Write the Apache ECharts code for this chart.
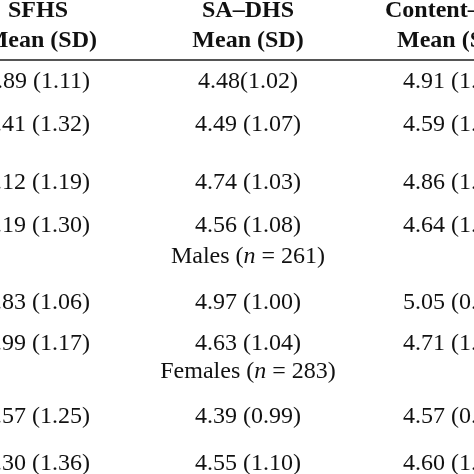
<!DOCTYPE html>
<html>
<head>
<meta charset="utf-8">
<script src="https://cdn.jsdelivr.net/npm/echarts@6/dist/echarts.min.js"></script>
<style>html,body{margin:0;padding:0;background:#fff}#main{width:474px;height:474px}</style>
</head>
<body>
<div id="main"></div>
<script>
// table values
var headers1 = ['SFHS', 'SA\u2013DHS', 'Content\u2013DHS'];
var headers2 = ['Mean (SD)', 'Mean (SD)', 'Mean (SD)'];
var colSFHS = ['4.89 (1.11)', '4.41 (1.32)', '4.12 (1.19)', '4.19 (1.30)', '4.83 (1.06)', '4.99 (1.17)', '4.57 (1.25)', '4.30 (1.36)'];
var colSADHS = ['4.48(1.02)', '4.49 (1.07)', '4.74 (1.03)', '4.56 (1.08)', '4.97 (1.00)', '4.63 (1.04)', '4.39 (0.99)', '4.55 (1.10)'];
var colContent = ['4.91 (1.11)', '4.59 (1.20)', '4.86 (1.10)', '4.64 (1.15)', '5.05 (0.98)', '4.71 (1.12)', '4.57 (0.99)', '4.60 (1.11)'];
var groupLabels = ['Males', 'Females'];
var groupN = [261, 283];

// layout
var rowY = [82, 125, 183, 226, 303, 344, 417, 464];
var groupY = [257, 372];
var colX = [90, 248, 403];
var colAlign = ['right', 'center', 'left'];
var font = '"Liberation Serif", "Times New Roman", serif';

var els = [];
function txt(x, y, s, align, bold) {
    els.push({
        type: 'text', x: x, y: y,
        style: {
            text: s, textAlign: align, textVerticalAlign: 'middle',
            fill: '#111', font: (bold ? 'bold ' : '') + '24px ' + font
        }
    });
}
var cols = [colSFHS, colSADHS, colContent];
var h1x = [68, 248, 385], h2x = [97, 248, 397];
for (var c = 0; c < 3; c++) {
    txt(h1x[c], 11, headers1[c], colAlign[c], true);
    txt(h2x[c], 41, headers2[c], colAlign[c], true);
    for (var r = 0; r < cols[c].length; r++) {
        txt(colX[c], rowY[r], cols[c][r], colAlign[c], false);
    }
}
for (var g = 0; g < groupLabels.length; g++) {
    els.push({
        type: 'text', x: 248, y: groupY[g],
        style: {
            rich: { i: { fontStyle: 'italic', fontSize: 24, fontFamily: font, fill: '#111' },
                    n: { fontSize: 24, fontFamily: font, fill: '#111' } },
            text: '{n|' + groupLabels[g] + ' (}{i|n}{n| = ' + groupN[g] + ')}',
            textAlign: 'center', textVerticalAlign: 'middle'
        }
    });
}
els.push({ type: 'line', shape: { x1: 0, y1: 60, x2: 474, y2: 60 }, style: { stroke: '#555', lineWidth: 2 } });

var myChart = echarts.init(document.getElementById('main'));
myChart.setOption({ backgroundColor: '#fff', graphic: els });
</script>
</body>
</html>
